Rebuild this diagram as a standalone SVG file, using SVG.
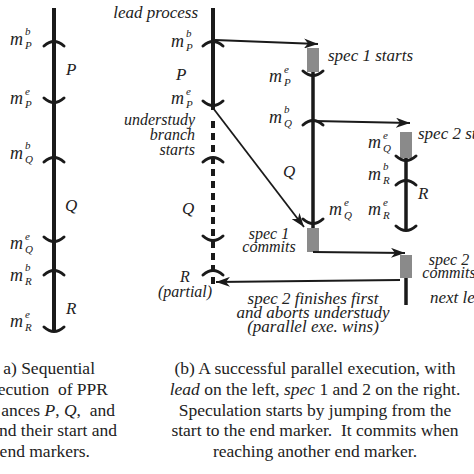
<svg xmlns="http://www.w3.org/2000/svg" width="474" height="474" viewBox="0 0 474 474">
<style>
.ln{stroke:#1a1a1a;fill:none}
.main{stroke-width:4}
.arc{stroke-width:3;stroke-linecap:round}
.arr{stroke-width:1.8;marker-end:url(#ah)}
.dash{stroke-dasharray:7 5}
.lbl{font-family:"Liberation Serif","Times New Roman",serif;font-style:italic;font-size:17px;fill:#222}
.ml{font-size:16px}
.m{font-size:18px}
.s{font-size:11px}
.mid{text-anchor:middle}
.end{text-anchor:end}
.cap{font-family:"Liberation Serif","Times New Roman",serif;font-size:17.5px;fill:#222}
.it{font-style:italic}
.box{fill:#8a8a8a}
</style>
<defs>
<marker id="ah" markerUnits="userSpaceOnUse" markerWidth="14" markerHeight="10" refX="14" refY="5" orient="auto">
<path d="M0,0 L14,5 L0,10 L4,5 z" fill="#1a1a1a"/>
</marker>
</defs>
<rect width="474" height="474" fill="#fff"/>

<g id="sequential">
<line class="ln main" x1="54" y1="8" x2="54" y2="331"/>
<path class="ln arc" d="M44,46 Q54,37 64,46"/>
<path class="ln arc" d="M44,98 Q54,107 64,98"/>
<path class="ln arc" d="M44,162 Q54,153 64,162"/>
<path class="ln arc" d="M44,237 Q54,246 64,237"/>
<path class="ln arc" d="M44,275 Q54,266 64,275"/>
<path class="ln arc" d="M44,327 Q54,336 64,327"/>
<text class="lbl m" x="10" y="45">m</text><text class="lbl s" x="25" y="35">b</text><text class="lbl s" x="25" y="49">P</text>
<text class="lbl m" x="10" y="104">m</text><text class="lbl s" x="25" y="95">e</text><text class="lbl s" x="25" y="108">P</text>
<text class="lbl m" x="10" y="159">m</text><text class="lbl s" x="25" y="149">b</text><text class="lbl s" x="25" y="163">Q</text>
<text class="lbl m" x="10" y="249">m</text><text class="lbl s" x="25" y="240">e</text><text class="lbl s" x="25" y="253">Q</text>
<text class="lbl m" x="10" y="281">m</text><text class="lbl s" x="25" y="271">b</text><text class="lbl s" x="25" y="285">R</text>
<text class="lbl m" x="10" y="327">m</text><text class="lbl s" x="25" y="318">e</text><text class="lbl s" x="25" y="331">R</text>
<text class="lbl" x="66" y="75">P</text>
<text class="lbl" x="65" y="211">Q</text>
<text class="lbl" x="66" y="314">R</text>
</g>

<g id="lead">
<line class="ln main" x1="213" y1="8" x2="213" y2="110"/>
<line class="ln main dash" x1="213" y1="121" x2="213" y2="285"/>
<path class="ln arc" d="M203,46 Q213,37 223,46"/>
<path class="ln arc" d="M203,101 Q213,110 223,101"/>
<path class="ln arc" d="M203,162 Q213,153 223,162"/>
<path class="ln arc" d="M203,236 Q213,245 223,236"/>
<path class="ln arc" d="M203,275 Q213,266 223,275"/>
<text class="lbl end" x="198" y="18">lead process</text>
<text class="lbl m" x="171" y="47">m</text><text class="lbl s" x="186" y="37">b</text><text class="lbl s" x="186" y="51">P</text>
<text class="lbl" x="176" y="80">P</text>
<text class="lbl m" x="171" y="104">m</text><text class="lbl s" x="186" y="95">e</text><text class="lbl s" x="186" y="108">P</text>
<text class="lbl ml end" x="195" y="125">understudy</text>
<text class="lbl ml end" x="195" y="140">branch</text>
<text class="lbl ml end" x="195" y="155">starts</text>
<text class="lbl" x="182" y="214">Q</text>
<text class="lbl ml mid" x="185" y="282">R</text>
<text class="lbl ml mid" x="185" y="297">(partial)</text>
</g>

<g id="spec1">
<rect class="box" x="307" y="48" width="12" height="24"/>
<line class="ln" style="stroke-width:3.5" x1="313" y1="72" x2="313" y2="228"/>
<rect class="box" x="307" y="228" width="12" height="24"/>
<path class="ln arc" d="M303,71 Q313,80 323,71"/>
<path class="ln arc" d="M303,125 Q313,116 323,125"/>
<path class="ln arc" d="M303,219 Q313,228 323,219"/>
<text class="lbl" x="328" y="61">spec 1 starts</text>
<text class="lbl m" x="269" y="82">m</text><text class="lbl s" x="284" y="73">e</text><text class="lbl s" x="284" y="86">P</text>
<text class="lbl m" x="269" y="123">m</text><text class="lbl s" x="284" y="113">b</text><text class="lbl s" x="284" y="127">Q</text>
<text class="lbl" x="283" y="177">Q</text>
<text class="lbl m" x="329" y="215">m</text><text class="lbl s" x="344" y="206">e</text><text class="lbl s" x="344" y="219">Q</text>
<text class="lbl ml mid" x="269" y="239">spec 1</text>
<text class="lbl ml mid" x="269" y="252">commits</text>
</g>

<g id="spec2">
<rect class="box" x="400" y="132" width="12" height="26"/>
<line class="ln" style="stroke-width:3.5" x1="406" y1="158" x2="406" y2="230"/>
<path class="ln arc" d="M396,156 Q406,165 416,156"/>
<path class="ln arc" d="M396,185 Q406,176 416,185"/>
<path class="ln arc" d="M396,226 Q406,235 416,226"/>
<rect class="box" x="400" y="255" width="12" height="23"/>
<line class="ln" style="stroke-width:3.5" x1="406" y1="278" x2="406" y2="305"/>
<text class="lbl" x="418" y="139">spec 2 starts</text>
<text class="lbl m" x="368" y="148">m</text><text class="lbl s" x="383" y="139">e</text><text class="lbl s" x="383" y="152">Q</text>
<text class="lbl m" x="368" y="180">m</text><text class="lbl s" x="383" y="170">b</text><text class="lbl s" x="383" y="184">R</text>
<text class="lbl" x="418" y="199">R</text>
<text class="lbl m" x="368" y="215">m</text><text class="lbl s" x="383" y="206">e</text><text class="lbl s" x="383" y="219">R</text>
<text class="lbl ml mid" x="449" y="265">spec 2</text>
<text class="lbl ml mid" x="449" y="278">commits</text>
<text class="lbl" x="430" y="303">next lead</text>
</g>

<g id="connectors">
<line class="ln arr" x1="215" y1="40" x2="318" y2="44"/>
<line class="ln arr" x1="213" y1="108" x2="304" y2="227"/>
<line class="ln arr" x1="315" y1="121" x2="410" y2="123"/>
<line class="ln arr" x1="313" y1="252" x2="405" y2="253"/>
<line class="ln arr" x1="400" y1="280" x2="216" y2="282"/>
</g>

<g id="abort-label">
<text class="lbl mid" x="313" y="304">spec 2 finishes first</text>
<text class="lbl mid" x="313" y="318">and aborts understudy</text>
<text class="lbl mid" x="313" y="332">(parallel exe. wins)</text>
</g>

<g id="caption-a">
<text class="cap end" x="95" y="374">a) Sequential</text>
<text class="cap end" x="108" y="395">ecution&#160; of PPR</text>
<text class="cap end" x="115" y="416">ances <tspan class="it">P</tspan>, <tspan class="it">Q</tspan>,&#160; and</text>
<text class="cap end" x="117" y="436">nd their start and</text>
<text class="cap end" x="90" y="457">end markers.</text>
</g>

<g id="caption-b">
<text class="cap mid" x="315" y="374">(b) A successful parallel execution, with</text>
<text class="cap mid" x="315" y="395"><tspan class="it">lead</tspan> on the left, <tspan class="it">spec</tspan> 1 and 2 on the right.</text>
<text class="cap mid" x="315" y="416">Speculation starts by jumping from the</text>
<text class="cap mid" x="315" y="436">start to the end marker.&#160; It commits when</text>
<text class="cap mid" x="315" y="457">reaching another end marker.</text>
</g>
</svg>
